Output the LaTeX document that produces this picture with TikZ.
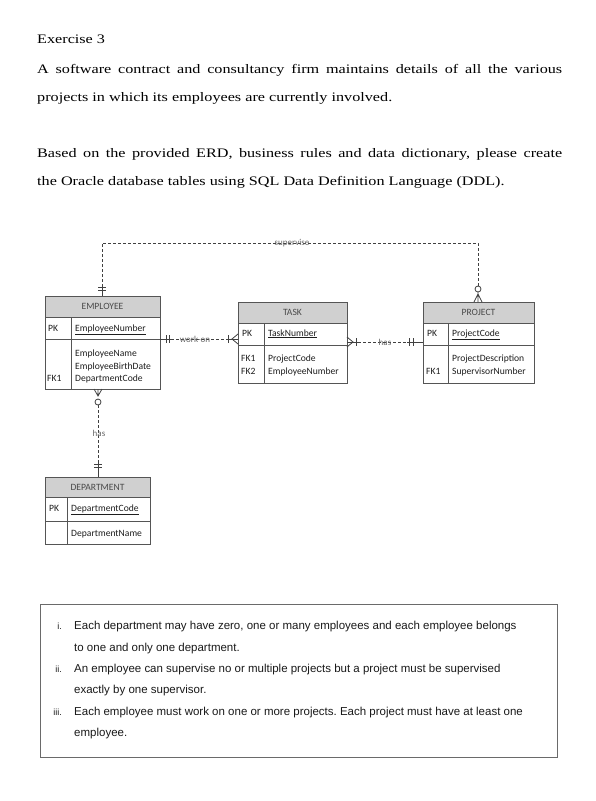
\documentclass[tikz,border=0pt]{standalone}
\usepackage{fontspec}
\setmainfont{Liberation Serif}[FakeStretch=1.245]
\newfontfamily\erdfont{Carlito}
\newfontfamily\rulfont{Liberation Sans}
\definecolor{bordc}{HTML}{555555}
\definecolor{hdrc}{HTML}{D0D0D0}
\definecolor{erdtxt}{HTML}{1E1E1E}
\definecolor{hdrtxt}{HTML}{4A4A4A}
\definecolor{lblc}{HTML}{666666}
\definecolor{linec}{HTML}{404040}
\definecolor{rulc}{HTML}{1A1A1A}
\definecolor{boxc}{HTML}{6A6A6A}
\frenchspacing
\begin{document}
\begin{tikzpicture}[x=1pt,y=-1pt,
  body/.style={anchor=base west, inner sep=0, font=\fontsize{13}{15}\selectfont, text=black},
  et/.style={anchor=base west, inner sep=0, font=\erdfont\fontsize{9.6}{11}\selectfont, text=erdtxt},
  eh/.style={anchor=base, inner sep=0, font=\erdfont\fontsize{9.6}{11}\selectfont, text=hdrtxt},
  lbl/.style={inner sep=0, font=\erdfont\fontsize{9}{10}\selectfont, text=lblc},
  entbox/.style={draw=bordc, line width=0.7pt, inner sep=0, anchor=north west},
  inl/.style={draw=bordc, line width=0.7pt},
  rel/.style={draw=linec, line width=0.8pt, dash pattern=on 3pt off 2pt},
  srel/.style={draw=linec, line width=0.8pt},
  rt/.style={anchor=base west, inner sep=0, font=\rulfont\fontsize{11.5}{13}\selectfont, text=rulc},
  rn/.style={anchor=base east, inner sep=0, font=\rulfont\fontsize{9}{10}\selectfont, text=rulc}
]
\useasboundingbox (0,0) rectangle (595,801);
\fill[white] (0,0) rectangle (595,801);

% ---------- intro text ----------
\node[body] (t0) at (37,43) {Exercise 3};
\node[body] (t1) at (37,73) {\makebox[525pt][s]{A software contract and consultancy firm maintains details of all the various}};
\node[body] (t2) at (37,101) {projects in which its employees are currently involved.};
\node[body] (t3) at (37,157) {\makebox[525pt][s]{Based on the provided ERD, business rules and data dictionary, please create}};
\node[body] (t4) at (37,185) {the Oracle database tables using SQL Data Definition Language (DDL).};

% ---------- EMPLOYEE ----------
\fill[hdrc] (45,296) rectangle (160,317);
\node[entbox, minimum width=115pt, minimum height=93pt] (emp) at (45,296) {};
\draw[inl] (45,317) -- (160,317) (45,339) -- (160,339) (71,317) -- (71,389);
\node[eh] (empH) at (102.5,309) {EMPLOYEE};
\node[et] (empPK) at (48,331) {PK};
\node[et] (empA1) at (75,331) {\underline{EmployeeNumber}};
\node[et] (empA2) at (75,356) {EmployeeName};
\node[et] (empA3) at (75,369) {EmployeeBirthDate};
\node[et] (empA4) at (75,381) {DepartmentCode};
\node[et] (empFK) at (47,381) {FK1};

% ---------- TASK ----------
\fill[hdrc] (238,302) rectangle (347,323);
\node[entbox, minimum width=109pt, minimum height=81pt] (task) at (238,302) {};
\draw[inl] (238,323) -- (347,323) (238,345) -- (347,345) (264,323) -- (264,383);
\node[eh] (taskH) at (292.5,315) {TASK};
\node[et] (taskPK) at (242,336) {PK};
\node[et] (taskA1) at (268,336) {\underline{TaskNumber}};
\node[et] (taskFK1) at (241,361) {FK1};
\node[et] (taskFK2) at (241,374) {FK2};
\node[et] (taskA2) at (268,361) {ProjectCode};
\node[et] (taskA3) at (268,374) {EmployeeNumber};

% ---------- PROJECT ----------
\fill[hdrc] (423,302) rectangle (534,323);
\node[entbox, minimum width=111pt, minimum height=81pt] (proj) at (423,302) {};
\draw[inl] (423,323) -- (534,323) (423,345) -- (534,345) (448,323) -- (448,383);
\node[eh] (projH) at (478.5,315) {PROJECT};
\node[et] (projPK) at (427,336) {PK};
\node[et] (projA1) at (452,336) {\underline{ProjectCode}};
\node[et] (projA2) at (452,361) {ProjectDescription};
\node[et] (projA3) at (452,374) {SupervisorNumber};
\node[et] (projFK) at (426,374) {FK1};

% ---------- DEPARTMENT ----------
\fill[hdrc] (45,477) rectangle (150,497);
\node[entbox, minimum width=105pt, minimum height=67pt] (dept) at (45,477) {};
\draw[inl] (45,497) -- (150,497) (45,521) -- (150,521) (67,497) -- (67,544);
\node[eh] (deptH) at (97.5,490) {DEPARTMENT};
\node[et] (deptPK) at (49,511) {PK};
\node[et] (deptA1) at (71,511) {\underline{DepartmentCode}};
\node[et] (deptA2) at (71,536) {DepartmentName};

% ---------- supervise ----------
\coordinate (sA) at (102,296);
\coordinate (sB) at (102,287);
\coordinate (sC) at (478,286);
\coordinate (sD) at (478,302);
\draw[srel] (sA) -- (sB);
\draw[rel] (sB) -- (102,243) -- (478,243) -- (sC);
\draw[srel] (98,287) -- (106,287) (98,290) -- (106,290);
\draw[srel] (478,289) circle (3);
\draw[srel] (474,302) -- (478,294) -- (482,302) (478,292) -- (sD);
\node[lbl] (supL) at (292,243) {supervise};

% ---------- work-on ----------
\coordinate (wA) at (160,339);
\coordinate (wB) at (171,339);
\coordinate (wC) at (226,339);
\coordinate (wD) at (238,339);
\draw[srel] (wA) -- (wB) (wC) -- (wD);
\draw[rel] (wB) -- (wC);
\draw[srel] (166,335) -- (166,343) (169,335) -- (169,343);
\draw[srel] (228,335) -- (228,343);
\draw[srel] (238,334) -- (232,339) -- (238,344);
\node[lbl] (workL) at (195,339) {work-on};

% ---------- has (task-project) ----------
\coordinate (hA) at (347,342);
\coordinate (hB) at (358,342);
\coordinate (hC) at (407,342);
\coordinate (hD) at (423,342);
\draw[srel] (hA) -- (hB) (hC) -- (hD);
\draw[rel] (hB) -- (hC);
\draw[srel] (347,337) -- (353,342) -- (347,347);
\draw[srel] (356,338) -- (356,346);
\draw[srel] (409,338) -- (409,346) (413,338) -- (413,346);
\node[lbl] (hasL1) at (385,342) {has};

% ---------- has (employee-department) ----------
\coordinate (dA) at (98,389);
\coordinate (dB) at (98,399);
\coordinate (dC) at (98,405);
\coordinate (dD) at (98,462);
\coordinate (dE) at (98,477);
\draw[srel] (94,389) -- (98,396) -- (102,389) (dA) -- (98,396);
\draw[srel] (98,402) circle (3);
\draw[rel] (dC) -- (dD);
\draw[srel] (dD) -- (dE);
\draw[srel] (94,464) -- (102,464) (94,467) -- (102,467);
\node[lbl] (hasL2) at (99,433) {has};

% ---------- rules box ----------
\node[draw=boxc, line width=0.7pt, anchor=north west, minimum width=517pt, minimum height=153pt, inner sep=0] (rules) at (40,604) {};
\node[rn] (n1) at (62,629) {i.};
\node[rt] (r1) at (74,629) {Each department may have zero, one or many employees and each employee belongs};
\node[rt] (r2) at (74,651) {to one and only one department.};
\node[rn] (n2) at (62,672) {ii.};
\node[rt] (r3) at (74,672) {An employee can supervise no or multiple projects but a project must be supervised};
\node[rt] (r4) at (74,693) {exactly by one supervisor.};
\node[rn] (n3) at (62,715) {iii.};
\node[rt] (r5) at (74,715) {Each employee must work on one or more projects. Each project must have at least one};
\node[rt] (r6) at (74,736) {employee.};
\end{tikzpicture}
\end{document}
